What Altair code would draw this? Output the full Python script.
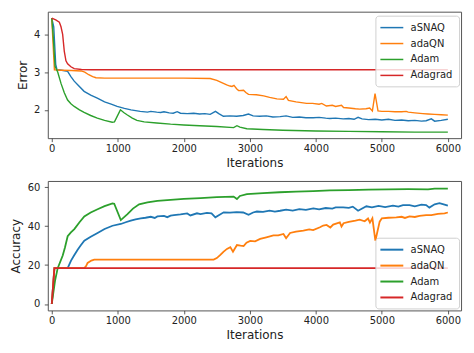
import altair as alt
import pandas as pd

SERIES = ["aSNAQ", "adaQN", "Adam", "Adagrad"]
COLORS = ["#1f77b4", "#ff7f0e", "#2ca02c", "#d62728"]
X_TICKS = [0, 1000, 2000, 3000, 4000, 5000, 6000]
ERR_TICKS = [2, 3, 4]
ACC_TICKS = [0, 20, 40, 60]

# ---------------- Error panel ----------------
asnaq_err_x = [0, 30, 60, 80, 150, 240, 290, 340, 400, 490, 590, 690, 800, 900, 990, 1100, 1200, 1340,
               1450, 1500, 1590, 1650, 1700, 1780, 1840, 1900, 1950, 2050, 2150, 2240, 2320, 2400, 2480,
               2530, 2600, 2700, 2800, 2900, 2980, 3050, 3150, 3250, 3350, 3460, 3550, 3650, 3750, 3850,
               3960, 4050, 4150, 4213, 4300, 4414, 4500, 4580, 4640, 4700, 4800, 4900, 5000, 5100, 5200,
               5300, 5400, 5500, 5600, 5671, 5750, 5800, 5900, 6000]
asnaq_err_y = [4.43, 4.2, 3.2, 3.06, 3.05, 3.02, 2.88, 2.76, 2.65, 2.49, 2.39, 2.31, 2.21, 2.15, 2.09, 2.04,
               2.0, 1.96, 1.94, 1.96, 1.94, 1.93, 1.95, 1.92, 1.91, 1.95, 1.91, 1.90, 1.91, 1.89, 1.90, 1.88,
               1.96, 1.90, 1.83, 1.84, 1.83, 1.85, 1.89, 1.84, 1.83, 1.84, 1.81, 1.82, 1.84, 1.80, 1.81,
               1.79, 1.79, 1.80, 1.78, 1.77, 1.78, 1.76, 1.77, 1.75, 1.80, 1.76, 1.74, 1.75, 1.73, 1.75,
               1.72, 1.73, 1.71, 1.72, 1.70, 1.71, 1.76, 1.70, 1.72, 1.75]

adaqn_err_x = [0, 40, 150, 300, 445, 500, 560, 620, 670, 800, 1500, 2000, 2400, 2500, 2600, 2650, 2700,
               2730, 2760, 2800, 2830, 2905, 2940, 2980, 3100, 3210, 3300, 3410, 3510, 3550, 3585, 3700,
               3860, 3950, 4050, 4090, 4160, 4250, 4300, 4389, 4420, 4500, 4600, 4665, 4760, 4816, 4857,
               4897, 4942, 5000, 5100, 5200, 5300, 5370, 5400, 5500, 5621, 5700, 5800, 5900, 6000]
adaqn_err_y = [4.43, 3.06, 3.05, 3.04, 3.03, 3.0, 2.93, 2.88, 2.85, 2.84, 2.84, 2.84, 2.83, 2.78, 2.70,
               2.66, 2.63, 2.62, 2.65, 2.56, 2.51, 2.52, 2.46, 2.41, 2.40, 2.37, 2.33, 2.29, 2.28, 2.35,
               2.25, 2.21, 2.17, 2.17, 2.15, 2.17, 2.10, 2.12, 2.09, 2.12, 2.06, 2.05, 2.03, 2.02, 2.03,
               2.05, 1.97, 2.43, 1.97, 1.96, 1.96, 1.95, 1.95, 1.96, 1.94, 1.92, 1.90, 1.89, 1.88, 1.87, 1.86]

adam_err_x = [0, 20, 50, 90, 140, 190, 240, 290, 340, 420, 490, 590, 690, 800, 915, 950, 1040, 1090, 1140,
              1220, 1290, 1400, 1590, 1800, 2000, 2240, 2500, 2755, 2805, 2850, 2955, 3200, 3500, 4000,
              4500, 5000, 5500, 6000]
adam_err_y = [4.43, 4.0, 3.15, 3.0, 2.70, 2.45, 2.26, 2.16, 2.09, 2.0, 1.93, 1.85, 1.78, 1.72, 1.67, 1.68,
              2.0, 1.93, 1.87, 1.78, 1.72, 1.68, 1.65, 1.62, 1.60, 1.58, 1.56, 1.53, 1.58, 1.54, 1.50, 1.48,
              1.46, 1.44, 1.43, 1.42, 1.41, 1.41]

adagrad_err_x = [0, 60, 115, 140, 165, 190, 215, 240, 290, 340, 450, 600, 6000]
adagrad_err_y = [4.43, 4.38, 4.32, 4.2, 4.0, 3.55, 3.3, 3.22, 3.14, 3.09, 3.07, 3.06, 3.06]

# ---------------- Accuracy panel ----------------
asnaq_acc_x = [0, 40, 241, 292, 340, 392, 440, 493, 590, 694, 800, 920, 1046, 1120, 1197, 1270, 1348, 1420,
               1500, 1560, 1600, 1700, 1750, 1800, 1851, 1950, 2052, 2100, 2200, 2253, 2350, 2420, 2478,
               2604, 2700, 2800, 2900, 2981, 3050, 3107, 3200, 3300, 3380, 3460, 3550, 3650, 3750, 3850,
               3962, 4050, 4150, 4250, 4300, 4414, 4500, 4560, 4640, 4766, 4850, 4950, 5050, 5169, 5250,
               5320, 5420, 5500, 5600, 5671, 5720, 5800, 5873, 5950, 6000]
asnaq_acc_y = [0, 18.4, 18.4, 22.3, 25, 27.9, 30.2, 32.5, 34.5, 36.5, 38.5, 40.2, 41.1, 42, 42.8, 43.5, 44,
               44.3, 44.8, 44.2, 45.0, 45.3, 44.6, 45.4, 45.6, 46.0, 46.5, 45.5, 46.6, 46.2, 46.8, 46.5,
               44.5, 47.1, 46.9, 47.2, 47.0, 45.8, 47.0, 47.5, 47.3, 48.0, 47.5, 47.9, 48.5, 48.0, 48.7,
               48.4, 49.1, 48.6, 49.3, 49.0, 49.6, 49.6, 49.4, 50.0, 47.9, 50.2, 49.6, 50.4, 49.8, 50.5,
               50.0, 50.8, 50.8, 50.2, 51.0, 50.8, 49.5, 51.2, 51.8, 51.0, 50.5]

adaqn_acc_x = [0, 40, 493, 520, 543, 600, 644, 1000, 2453, 2500, 2554, 2600, 2654, 2705, 2745, 2805, 2860,
               2906, 2950, 3006, 3080, 3157, 3250, 3358, 3430, 3510, 3550, 3610, 3700, 3811, 3900, 3960,
               4063, 4112, 4163, 4220, 4263, 4364, 4389, 4420, 4500, 4600, 4665, 4740, 4791, 4820, 4857,
               4902, 4967, 5000, 5100, 5219, 5300, 5350, 5420, 5500, 5571, 5671, 5750, 5850, 5950, 6000]
adaqn_acc_y = [0, 18.4, 18.4, 19.5, 21.1, 22.3, 22.8, 22.8, 22.8, 23.6, 25.2, 26.8, 28.3, 29.2, 26.9, 30.3,
               30.0, 29.8, 31.5, 32.4, 32.2, 33.4, 34.2, 35.2, 35.3, 36.0, 33.8, 36.5, 37.2, 37.7, 38.3,
               38.0, 39.4, 40.3, 40.6, 39.3, 40.8, 41.9, 39.8, 41.5, 42.2, 42.8, 43.3, 42.5, 43.9, 41.8,
               44.0, 32.5, 42.3, 44.0, 44.3, 44.5, 44.8, 44.2, 45.0, 44.7, 45.3, 45.7, 45.6, 46.3, 46.6, 47.0]

adam_acc_x = [0, 50, 90, 166, 200, 241, 290, 342, 420, 493, 590, 694, 800, 920, 946, 1046, 1147, 1230, 1323,
              1450, 1600, 1800, 2000, 2253, 2500, 2755, 2805, 2850, 2956, 3200, 3450, 3700, 3962, 4213,
              4500, 4800, 5100, 5400, 5700, 5800, 6000]
adam_acc_y = [0, 12, 18.4, 24.9, 29, 34.8, 36.8, 38.5, 42, 45, 47, 48.7, 50.3, 51.7, 51.5, 43.1, 46.2, 49,
              51.2, 52.2, 53.0, 53.5, 54.0, 54.4, 54.9, 55.2, 53.9, 55.5, 56.4, 57.0, 57.4, 57.7, 58.0,
              58.4, 58.5, 58.7, 58.9, 59.0, 58.9, 59.3, 59.3]

adagrad_acc_x = [0, 40, 6000]
adagrad_acc_y = [0, 18.4, 18.4]


def long_table(pairs):
    rows = []
    for name, xs, ys in pairs:
        for i, (x, y) in enumerate(zip(xs, ys)):
            rows.append({"series": name, "it": x, "val": y, "k": i})
    return pd.DataFrame(rows)


err_df = long_table([
    ("aSNAQ", asnaq_err_x, asnaq_err_y),
    ("adaQN", adaqn_err_x, adaqn_err_y),
    ("Adam", adam_err_x, adam_err_y),
    ("Adagrad", adagrad_err_x, adagrad_err_y),
])
acc_df = long_table([
    ("aSNAQ", asnaq_acc_x, asnaq_acc_y),
    ("adaQN", adaqn_acc_x, adaqn_acc_y),
    ("Adam", adam_acc_x, adam_acc_y),
    ("Adagrad", adagrad_acc_x, adagrad_acc_y),
])

FONT = "DejaVu Sans"


def legend(y, sw):
    return alt.Legend(
        orient="none", legendX=329, legendY=y, title=None,
        symbolType="M-2.3,0H2.3", symbolSize=100, symbolStrokeWidth=sw,
        symbolOffset=4.5, labelOffset=12.8, labelFont=FONT, labelFontSize=10,
        labelColor="#222", padding=6, rowPadding=5,
        fillColor="rgba(255,255,255,0.8)", strokeColor="#d0d0d0", cornerRadius=3,
    )


x_enc = alt.X("it:Q", title="Iterations",
              scale=alt.Scale(domain=[-60, 6200], nice=False, zero=False),
              axis=alt.Axis(values=X_TICKS, format="d", labelFlush=False))

top = alt.Chart(err_df).mark_line(strokeWidth=1.4, clip=True).encode(
    x=x_enc,
    y=alt.Y("val:Q", title="Error",
            scale=alt.Scale(domain=[1.25, 4.6], nice=False, zero=False),
            axis=alt.Axis(values=ERR_TICKS, format="d", titleX=-25, titleBaseline="middle")),
    color=alt.Color("series:N", scale=alt.Scale(domain=SERIES, range=COLORS), legend=legend(4, 1.5)),
    order="k:Q",
).properties(width=415, height=127)

bottom = alt.Chart(acc_df).mark_line(strokeWidth=1.8, clip=True).encode(
    x=x_enc,
    y=alt.Y("val:Q", title="Accuracy",
            scale=alt.Scale(domain=[-3.3, 63.2], nice=False, zero=False),
            axis=alt.Axis(values=ACC_TICKS, format="d", titleX=-32, titleBaseline="middle")),
    color=alt.Color("series:N", scale=alt.Scale(domain=SERIES, range=COLORS), legend=legend(57, 2)),
    order="k:Q",
).properties(width=415, height=130)

chart = alt.vconcat(top, bottom, spacing=43, bounds="flush").resolve_scale(
    color="independent"
).resolve_legend(color="independent").properties(
    padding={"left": 9, "top": 10, "right": 12, "bottom": 2},
    background="white",
).configure_view(
    stroke="#555", strokeWidth=1
).configure_axis(
    grid=False, domain=False, labelFont=FONT, labelFontSize=10, labelColor="#222",
    titleFont=FONT, titleFontSize=12, titleFontWeight="normal", titleColor="#222",
    tickSize=3.5, tickColor="#333", tickWidth=0.8,
).configure_axisX(
    labelPadding=1.5, titlePadding=4,
).configure_axisY(
    labelPadding=4.5,
)

chart.save("out.html", embed_options={"renderer": "svg", "actions": False})
